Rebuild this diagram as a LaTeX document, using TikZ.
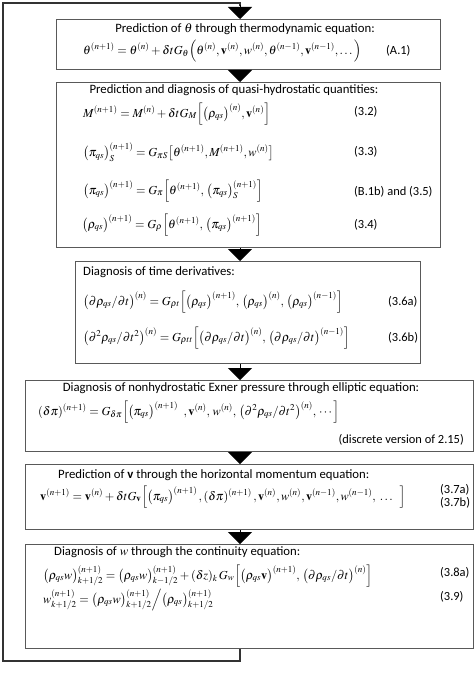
\documentclass[tikz,border=0pt]{standalone}
\usepackage{amsmath}
\usepackage{mathptmx}
\usepackage[no-math]{fontspec}
\setmainfont{Carlito}
\usetikzlibrary{arrows.meta,positioning}

\tikzset{
  stagebox/.style={draw=black!65, line width=1.1bp, anchor=north west, inner sep=0pt},
  flowarrow/.style={-{Triangle[width=24bp,length=12bp]}, line width=1bp},
  loopline/.style={draw=black!80, line width=1.6bp},
  head/.style={font=\fontsize{12.8}{15}\selectfont, inner sep=0pt},
  eqn/.style={font=\fontsize{12.3}{14}\selectfont, anchor=west, inner sep=0pt},
  eqno/.style={font=\fontsize{12.5}{14}\selectfont, anchor=west, inner sep=0pt}
}
\newcommand{\bv}{\mathbf{v}}
\newcommand{\rqs}{\rho_{qs}}
\newcommand{\pqs}{\pi_{qs}}

\begin{document}
\begin{tikzpicture}[x=1bp,y=-1bp]
  \useasboundingbox (0,0) rectangle (474,682);
  \coordinate (spine) at (240,0);

  % stage boxes
  \node[stagebox, minimum width=384bp, minimum height=50bp] (b1) at (56,19) {};
  \node[stagebox, minimum width=384bp, minimum height=165bp] (b2) at (56,82) {};
  \node[stagebox, minimum width=345bp, minimum height=102bp] (b3) at (75,261) {};
  \node[stagebox, minimum width=448bp, minimum height=71bp] (b4) at (25,380) {};
  \node[stagebox, minimum width=448bp, minimum height=65bp] (b5) at (25,464) {};
  \node[stagebox, minimum width=448bp, minimum height=104bp] (b6) at (25,544) {};

  % box 1
  \node[head] (h1) at (245,29) {Prediction of $\theta$ through thermodynamic equation:};
  \node[eqn] (e1) at (83,51) {$\theta^{(n+1)}=\theta^{(n)}+\delta t G_{\theta}\Big(\theta^{(n)},\bv^{(n)},w^{(n)},\theta^{(n-1)},\bv^{(n-1)},\ldots\Big)$};
  \node[eqno] (n1) at (386,51) {(A.1)};

  % box 2
  \node[head] (h2) at (234,90) {Prediction and diagnosis of quasi-hydrostatic quantities:};
  \node[eqn] (e21) at (83,114) {$M^{(n+1)}=M^{(n)}+\delta t G_{M}\Big[\big(\rqs\big)^{(n)},\bv^{(n)}\Big]$};
  \node[eqno] (n21) at (354,112) {(3.2)};
  \node[eqn] (e22) at (83,152) {$\big(\pqs\big)_{S}^{(n+1)}=G_{\pi S}\big[\theta^{(n+1)},M^{(n+1)},w^{(n)}\big]$};
  \node[eqno] (n22) at (354,152) {(3.3)};
  \node[eqn] (e23) at (83,191) {$\big(\pqs\big)^{(n+1)}=G_{\pi}\Big[\theta^{(n+1)},\,\big(\pqs\big)_{S}^{(n+1)}\Big]$};
  \node[eqno] (n23) at (354,192) {(B.1b) and (3.5)};
  \node[eqn] (e24) at (82,225) {$\big(\rqs\big)^{(n+1)}=G_{\rho}\Big[\theta^{(n+1)},\,\big(\pqs\big)^{(n+1)}\Big]$};
  \node[eqno] (n24) at (354,225) {(3.4)};

  % box 3
  \node[head, anchor=west] (h3) at (83,272) {Diagnosis of time derivatives:};
  \node[eqn] (e31) at (83,302) {$\big(\partial\rqs/\partial t\big)^{(n)}=G_{\rho t}\Big[\big(\rqs\big)^{(n+1)},\,\big(\rqs\big)^{(n)},\,\big(\rqs\big)^{(n-1)}\Big]$};
  \node[eqno] (n31) at (388,302) {(3.6a)};
  \node[eqn] (e32) at (83,338) {$\big(\partial^{2}\rqs/\partial t^{2}\big)^{(n)}=G_{\rho tt}\Big[\big(\partial\rqs/\partial t\big)^{(n)},\,\big(\partial\rqs/\partial t\big)^{(n-1)}\Big]$};
  \node[eqno] (n32) at (388,338) {(3.6b)};

  % box 4
  \node[head] (h4) at (241,388) {Diagnosis of nonhydrostatic Exner pressure through elliptic equation:};
  \node[eqn] (e4) at (38,412) {$(\delta\pi)^{(n+1)}=G_{\delta\pi}\Big[\big(\pqs\big)^{(n+1)}\;\;,\bv^{(n)},\,w^{(n)},\,\big(\partial^{2}\rqs/\partial t^{2}\big)^{(n)},\,\cdots\Big]$};
  \node[eqno, anchor=east] (n4) at (464,440) {(discrete version of 2.15)};

  % box 5
  \node[head, anchor=west] (h5) at (58,475) {Prediction of \textbf{v} through the horizontal momentum equation:};
  \node[eqn] (e5) at (40,497) {$\bv^{(n+1)}=\bv^{(n)}+\delta t G_{\bv}\Big[\big(\pqs\big)^{(n+1)}\,,(\delta\pi)^{(n+1)}\,,\bv^{(n)},w^{(n)},\bv^{(n-1)},w^{(n-1)},\ \ldots\ \;\Big]$};
  \node[eqno] (n5a) at (440,490) {(3.7a)};
  \node[eqno] (n5b) at (440,503) {(3.7b)};

  % box 6
  \node[head, anchor=west] (h6) at (54,552) {Diagnosis of $w$ through the continuity equation:};
  \node[eqn] (e61) at (43,576) {$\big(\rqs w\big)_{k+1/2}^{(n+1)}=\big(\rqs w\big)_{k-1/2}^{(n+1)}+(\delta z)_{k}\,G_{w}\Big[\big(\rqs\bv\big)^{(n+1)},\,\big(\partial\rqs/\partial t\big)^{(n)}\Big]$};
  \node[eqno] (n61) at (440,573) {(3.8a)};
  \node[eqn] (e62) at (43,600) {$w_{k+1/2}^{(n+1)}=\big(\rqs w\big)_{k+1/2}^{(n+1)}\Big/\big(\rqs\big)_{k+1/2}^{(n+1)}$};
  \node[eqno] (n62) at (440,597) {(3.9)};

  % flow arrows
  \draw[flowarrow] (b1.south -| spine) -- (b2.north -| spine);
  \draw[flowarrow] (b2.south -| spine) -- (b3.north -| spine);
  \draw[flowarrow] (b3.south -| spine) -- (b4.north -| spine);
  \draw[flowarrow] (b4.south -| spine) -- (b5.north -| spine);
  \draw[flowarrow] (b5.south -| spine) -- (b6.north -| spine);

  % time loop
  \coordinate (lb) at (240,661);
  \coordinate (lt) at (240,3);
  \draw[loopline] (b6.south -| spine) -- (lb) -- (3,661) -- (3,3) -- (lt) -- (240,6);
  \draw[flowarrow, draw=black] (240,5) -- (b1.north -| spine);
\end{tikzpicture}
\end{document}
